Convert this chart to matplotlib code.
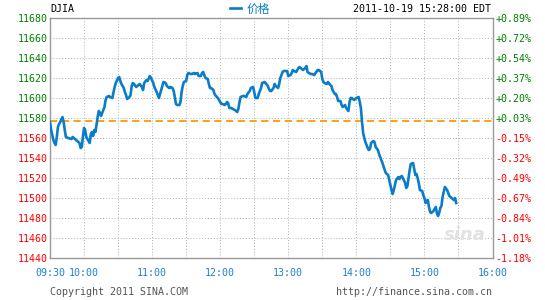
import matplotlib
matplotlib.use("Agg")
import matplotlib.pyplot as plt

# minutes after 09:30 and DJIA level
minutes = [0, 1, 3, 4, 5, 6, 7, 8, 9, 11, 12, 13, 14, 16, 19, 20, 22, 24, 26, 27,
           28, 29, 30, 31, 32, 33, 35, 36, 37, 38, 39, 40, 41, 42, 43, 44, 45, 47, 48, 49,
           50, 52, 53, 55, 56, 57, 58, 60, 61, 62, 63, 65, 66, 67, 68, 70, 71, 72, 73, 74,
           76, 78, 79, 81, 82, 83, 85, 86, 88, 89, 91, 92, 94, 95, 96, 98, 99, 100, 102, 103,
           105, 106, 108, 109, 110, 111, 112, 114, 115, 116, 117, 118, 120, 121, 122, 124, 125, 127, 128, 130,
           131, 133, 134, 135, 136, 137, 139, 140, 141, 142, 144, 145, 147, 148, 150, 151, 152, 154, 155, 156,
           157, 158, 160, 161, 163, 165, 166, 167, 168, 170, 171, 173, 174, 176, 177, 179, 180, 181, 183, 184,
           186, 187, 189, 190, 192, 193, 194, 195, 197, 198, 199, 201, 202, 203, 205, 206, 208, 209, 210, 212,
           213, 214, 215, 217, 218, 219, 220, 222, 223, 225, 226, 227, 228, 230, 231, 233, 234, 236, 237, 239,
           240, 241, 242, 244, 245, 247, 248, 249, 251, 252, 253, 254, 256, 257, 258, 260, 261, 263, 264, 265,
           266, 268, 269, 270, 272, 273, 274, 275, 276, 277, 278, 280, 281, 282, 283, 285, 286, 287, 289, 290,
           291, 292, 293, 295, 296, 298, 299, 300, 301, 302, 303, 304, 305, 307, 308, 309, 310, 311, 313, 314,
           315, 316, 317, 318, 320, 321, 322, 323, 324, 325, 326, 328, 329, 330, 331, 332, 333, 334, 335, 336,
           338, 339, 340, 341, 342, 343, 344, 345, 346, 347, 348, 350, 351, 352, 353, 354, 356, 357, 358]
prices = [11576, 11568, 11558, 11555, 11553, 11561, 11571, 11574, 11576, 11581, 11576, 11568, 11561, 11560, 11559, 11561, 11559, 11557, 11555, 11550,
          11551, 11561, 11570, 11568, 11561, 11559, 11555, 11564, 11566, 11562, 11568, 11566, 11573, 11581, 11587, 11585, 11582, 11588, 11591, 11598,
          11601, 11602, 11601, 11600, 11606, 11611, 11615, 11620, 11621, 11617, 11614, 11610, 11606, 11603, 11599, 11601, 11603, 11612, 11615, 11614,
          11611, 11613, 11614, 11611, 11608, 11615, 11618, 11617, 11622, 11620, 11615, 11611, 11606, 11603, 11600, 11608, 11612, 11616, 11615, 11612,
          11610, 11611, 11610, 11607, 11601, 11594, 11593, 11593, 11596, 11606, 11612, 11616, 11617, 11623, 11625, 11624, 11624, 11625, 11624, 11625,
          11622, 11622, 11625, 11626, 11623, 11620, 11619, 11614, 11610, 11610, 11608, 11604, 11601, 11600, 11596, 11594, 11594, 11593, 11594, 11596,
          11595, 11590, 11590, 11589, 11588, 11586, 11589, 11596, 11601, 11602, 11602, 11601, 11604, 11607, 11610, 11611, 11606, 11600, 11600, 11604,
          11610, 11615, 11616, 11615, 11612, 11609, 11607, 11607, 11610, 11614, 11612, 11610, 11614, 11620, 11626, 11627, 11627, 11627, 11622, 11623,
          11625, 11628, 11627, 11626, 11628, 11630, 11631, 11629, 11628, 11630, 11632, 11626, 11625, 11624, 11624, 11623, 11625, 11628, 11628, 11626,
          11619, 11616, 11615, 11614, 11616, 11613, 11612, 11608, 11604, 11604, 11601, 11597, 11597, 11593, 11591, 11593, 11590, 11587, 11596, 11600,
          11600, 11598, 11599, 11600, 11601, 11596, 11590, 11576, 11565, 11560, 11556, 11550, 11548, 11549, 11555, 11557, 11556, 11551, 11548, 11544,
          11541, 11538, 11535, 11528, 11525, 11523, 11518, 11513, 11508, 11504, 11508, 11513, 11518, 11521, 11519, 11521, 11522, 11520, 11515, 11510,
          11512, 11520, 11528, 11534, 11535, 11529, 11523, 11524, 11520, 11515, 11508, 11507, 11503, 11500, 11495, 11497, 11498, 11491, 11486, 11485,
          11487, 11489, 11491, 11485, 11482, 11485, 11490, 11492, 11501, 11506, 11511, 11508, 11505, 11502, 11501, 11500, 11498, 11500, 11495]

prev_close = 11577.05
y_ticks = list(range(11440, 11681, 20))
x_ticks = [0, 30, 90, 150, 210, 270, 330, 390]
x_labels = ["09:30", "10:00", "11:00", "12:00", "13:00", "14:00", "15:00", "16:00"]
grid_x = list(range(30, 390, 30))

mono = "DejaVu Sans Mono"
blue = "#0b7dc8"
green = "#008000"
red = "#ff0000"

fig = plt.figure(figsize=(5.45, 3.0), dpi=100)
ax = fig.add_axes([50 / 545, 42 / 300, 442.5 / 545, 240 / 300])

for gx in grid_x:
    ax.axvline(gx, color="#b0b0b0", lw=0.7, ls=(0, (1, 2)), zorder=0)
for gy in y_ticks[1:-1]:
    ax.axhline(gy, color="#b0b0b0", lw=0.7, ls=(0, (1, 2)), zorder=0)
ax.axhline(prev_close, color="#ff9900", lw=1.3, ls=(0, (4, 2.5)), zorder=1)

line, = ax.plot(minutes, prices, color=blue, lw=1.9, zorder=3)

ax.set_xlim(0, 390)
ax.set_ylim(11440, 11680)
for s in ax.spines.values():
    s.set_color("#999999")
    s.set_linewidth(1.0)

ax.set_yticks(y_ticks)
ax.set_yticklabels([str(v) for v in y_ticks], fontfamily=mono, fontsize=7.2)
for lab, v in zip(ax.get_yticklabels(), y_ticks):
    lab.set_color(green if v >= prev_close else red)
ax.tick_params(axis="y", length=0, pad=1.5)

ax.set_xticks(x_ticks)
ax.set_xticklabels(x_labels, fontfamily=mono, fontsize=7.2, color="#1e80d0")
ax.tick_params(axis="x", length=0, pad=7)

ax2 = ax.twinx()
ax2.set_ylim(11440, 11680)
ax2.set_yticks(y_ticks)
ax2.set_yticklabels(["%+.2f%%" % ((v / prev_close - 1) * 100) for v in y_ticks],
                    fontfamily=mono, fontsize=7.2)
for lab, v in zip(ax2.get_yticklabels(), y_ticks):
    lab.set_color(green if v >= prev_close else red)
ax2.tick_params(axis="y", length=0, pad=2)
for s in ax2.spines.values():
    s.set_visible(False)

# sina watermark
ax.text(0.985, 0.06, "sina", transform=ax.transAxes, ha="right", va="bottom",
        fontsize=13, fontweight="bold", style="italic", color="#e2e2e2", zorder=0)

fig.text(50 / 545, 1 - 9 / 300, "DJIA", fontfamily=mono, fontsize=7.2,
         ha="left", va="center", color="black")
fig.text(491 / 545, 1 - 9 / 300, "2011-10-19 15:28:00 EDT", fontfamily=mono,
         fontsize=7.2, ha="right", va="center", color="black")
fig.legend([line], ["价格"], loc="center", bbox_to_anchor=(250 / 545, 1 - 9 / 300),
           frameon=False, handlelength=0.9, handletextpad=0.5, borderpad=0,
           prop={"family": ["Noto Sans CJK SC", "DejaVu Sans"], "size": 8.5},
           labelcolor=blue)

fig.text(50 / 545, 1 - 292 / 300, "Copyright 2011 SINA.COM", fontfamily=mono,
         fontsize=7.2, ha="left", va="center", color="#555555")
fig.text(492 / 545, 1 - 292 / 300, "http://finance.sina.com.cn", fontfamily=mono,
         fontsize=7.2, ha="right", va="center", color="#555555")

fig.savefig("out.png", dpi=100)
